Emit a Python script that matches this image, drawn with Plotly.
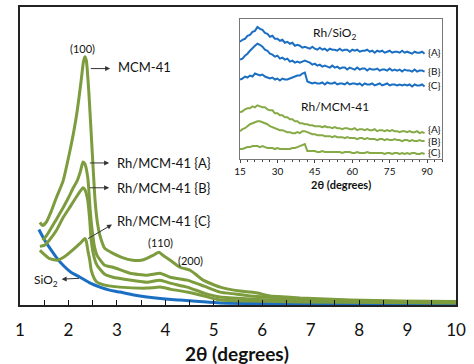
import plotly.graph_objects as go

# ---------------- main chart data (2theta in degrees, intensity a.u.) ----------------
mcm_x = [1.41, 1.47, 1.55, 1.65, 1.75, 1.89, 2.03, 2.10, 2.18, 2.26, 2.31, 2.34, 2.37, 2.42, 2.49,
         2.55, 2.60, 2.65, 2.75, 2.92, 3.10, 3.33, 3.50, 3.62, 3.75, 3.87, 3.95, 4.10, 4.30, 4.51,
         4.65, 4.78, 5.13, 5.54, 5.75, 5.90, 6.16, 6.50, 6.78, 7.30, 7.81, 8.84, 10.0]
mcm_y = [83, 80, 84, 95, 108, 125, 155, 172, 195, 225, 245, 250, 246, 215, 155,
         105, 82, 70, 57, 52, 48, 45, 45, 47, 50, 53, 50, 45, 38, 35,
         30, 25, 18, 14, 13, 12, 9, 8, 7, 6, 5, 4, 3.5]

rhA_x = [1.47, 1.55, 1.65, 1.75, 1.89, 2.00, 2.10, 2.18, 2.25, 2.30, 2.34, 2.40, 2.45, 2.49, 2.54,
         2.59, 2.75, 2.92, 3.27, 3.62, 3.75, 3.89, 4.10, 4.45, 4.80, 5.13, 5.45, 5.75, 6.20, 6.78,
         7.81, 8.84, 10.0]
rhA_y = [65, 70, 78, 86, 98, 108, 118, 125, 135, 144, 142, 128, 95, 75, 58,
         50, 40, 38, 32, 30, 31, 32, 28, 25, 19, 13, 11, 9, 7.5, 6,
         4.5, 3.5, 3]

rhB_x = [1.41, 1.50, 1.60, 1.75, 1.89, 2.05, 2.18, 2.30, 2.34, 2.40, 2.44, 2.47, 2.53, 2.59, 2.75,
         2.92, 3.30, 3.62, 3.89, 4.10, 4.45, 4.80, 5.13, 5.75, 6.78, 7.81, 10.0]
rhB_y = [59, 60, 65, 75, 88, 100, 110, 118, 116, 105, 85, 65, 48, 40, 31,
         28, 25, 23, 25, 22, 18, 12, 8, 6, 4, 3.5, 2.5]

rhC_x = [1.41, 1.50, 1.60, 1.76, 1.90, 2.03, 2.15, 2.24, 2.34, 2.37, 2.40, 2.44, 2.47, 2.53, 2.59,
         2.75, 3.06, 3.62, 3.89, 4.10, 4.45, 4.80, 5.13, 5.75, 6.78, 10.0]
rhC_y = [55, 51, 47, 45, 48, 53, 58, 62, 67, 64, 55, 45, 35, 27, 23,
         20, 18, 17, 18, 16, 13, 9, 5, 4, 3, 2]

sio2_x = [1.39, 1.50, 1.62, 1.75, 1.89, 2.05, 2.24, 2.45, 2.65, 2.85, 3.06, 3.35, 3.62, 4.00, 4.30,
          4.70, 5.13, 5.95, 7.00, 8.00, 10.0]
sio2_y = [76, 66, 57, 48, 40, 33, 28, 22, 18, 15, 13, 10, 8, 6, 5,
          3.5, 2, 1.5, 1, 0.8, 0.5]

main_ticks = [1, 2, 3, 4, 5, 6, 7, 8, 9, 10]

# ---------------- inset data (2theta 15-90) ----------------
inset_x = [15, 16, 17, 18, 19, 20, 21, 22, 23, 24, 25, 26, 27, 28, 29, 30, 31, 32, 33, 34,
           35, 36, 37, 38, 39, 40, 41, 42, 43, 44, 45, 46, 47, 48, 49, 50, 51, 52, 53, 54,
           55, 56, 57, 58, 59, 60, 61, 62, 63, 64, 65, 66, 67, 68, 69, 70, 71, 72, 73, 74,
           75, 76, 77, 78, 79, 80, 81, 82, 83, 84, 85, 86, 87, 88, 89]
sio2_A = [118, 120, 121, 124, 125, 128, 129, 133, 131, 130, 127, 126, 123, 124, 121, 121, 119, 120, 117, 118,
          116, 117, 114, 115, 114, 112, 113, 112, 111, 113, 111, 110, 112, 110, 111, 109, 111, 110, 110, 109,
          111, 109, 110, 110, 108, 110, 109, 110, 108, 109, 109, 110, 108, 109, 107, 109, 108, 109, 107, 108,
          109, 107, 108, 108, 107, 109, 107, 108, 107, 106, 108, 107, 107, 108, 106]
sio2_B = [100, 101, 104, 106, 109, 112, 114, 116, 115, 113, 110, 109, 106, 105, 103, 104, 101, 102, 100, 101,
          98, 99, 97, 98, 97, 98, 99, 98, 97, 95, 96, 94, 95, 93, 94, 93, 92, 94, 92, 93,
          91, 92, 92, 90, 92, 91, 90, 92, 90, 91, 91, 89, 91, 90, 90, 91, 89, 90, 90, 89,
          91, 89, 90, 89, 90, 88, 90, 89, 89, 88, 90, 88, 89, 89, 88]
sio2_C = [80, 81, 83, 82, 84, 83, 86, 85, 84, 85, 83, 82, 81, 82, 80, 81, 79, 81, 80, 80,
          81, 82, 83, 84, 84, 86, 87, 78, 77, 76, 77, 76, 76, 77, 75, 77, 76, 76, 77, 75,
          76, 76, 75, 77, 75, 76, 76, 75, 76, 74, 76, 75, 75, 76, 74, 75, 76, 74, 75, 76,
          74, 75, 75, 74, 75, 74, 75, 74, 75, 73, 75, 74, 74, 75, 73]
mcm_A = [47, 48, 50, 51, 51, 53, 52, 54, 53, 52, 52, 50, 49, 49, 46, 46, 44, 44, 42, 42,
         40, 40, 38, 38, 36, 36, 35, 35, 34, 34, 33, 33, 33, 32, 33, 32, 32, 31, 32, 31,
         31, 30, 31, 31, 30, 30, 31, 29, 30, 30, 29, 30, 29, 29, 30, 28, 29, 29, 28, 29,
         28, 29, 28, 28, 27, 28, 28, 27, 28, 27, 27, 28, 26, 27, 26]
mcm_B = [28, 30, 31, 33, 35, 36, 37, 38, 38, 37, 36, 35, 33, 32, 31, 30, 29, 29, 28, 27,
         27, 26, 26, 27, 26, 28, 28, 27, 26, 25, 25, 24, 24, 24, 23, 23, 23, 22, 23, 22,
         22, 22, 21, 22, 21, 21, 21, 20, 21, 21, 20, 21, 20, 20, 20, 19, 20, 20, 19, 20,
         19, 19, 20, 19, 19, 18, 19, 19, 18, 19, 18, 18, 19, 18, 18]
mcm_C = [10, 10, 11, 12, 12, 13, 13, 13, 12, 13, 12, 11, 11, 11, 10, 11, 10, 10, 10, 10,
         10, 11, 11, 12, 13, 14, 15, 8, 8, 8, 8, 7, 7, 8, 7, 7, 7, 7, 7, 7,
         7, 6, 7, 7, 7, 6, 6, 7, 6, 6, 6, 7, 6, 6, 6, 6, 6, 6, 5, 6,
         6, 5, 6, 6, 5, 6, 5, 6, 5, 6, 6, 5, 5, 6, 5]
inset_ticks = [15, 30, 45, 60, 75, 90]

GREEN = '#7C9C3E'
GREEN_IN = '#86AA45'
BLUE = '#1B6FC2'
FONT = 'Lato'

fig = go.Figure()

fig.add_trace(go.Scatter(x=sio2_x, y=sio2_y, mode='lines', line=dict(color=BLUE, width=3, shape='spline', smoothing=0.6)))
for xs, ys in [(rhC_x, rhC_y), (rhB_x, rhB_y), (rhA_x, rhA_y), (mcm_x, mcm_y)]:
    fig.add_trace(go.Scatter(x=xs, y=ys, mode='lines', line=dict(color=GREEN, width=3, shape='spline', smoothing=0.5)))

for ys, col in [(sio2_A, BLUE), (sio2_B, BLUE), (sio2_C, BLUE), (mcm_A, GREEN_IN), (mcm_B, GREEN_IN), (mcm_C, GREEN_IN)]:
    fig.add_trace(go.Scatter(x=inset_x, y=ys, mode='lines', xaxis='x2', yaxis='y2',
                             line=dict(color=col, width=2)))

ann = []
def txt(x, y, t, size=13, xa='left', ref=('x', 'y'), bold=False, color='#111'):
    ann.append(dict(x=x, y=y, xref=ref[0], yref=ref[1], text=('<b>%s</b>' % t if bold else t),
                    showarrow=False, xanchor=xa, yanchor='middle',
                    font=dict(family=FONT, size=size, color=color)))

def arrow(x0, y0, x1, y1):
    ann.append(dict(x=x1, y=y1, ax=x0, ay=y0, xref='x', yref='y', axref='x', ayref='y', text=' ',
                    showarrow=True, arrowhead=2, arrowsize=1, arrowwidth=1, arrowcolor='#333', standoff=0, startstandoff=0))

arrow(2.40, 238, 2.86, 238)
arrow(2.38, 143, 2.84, 143)
arrow(2.38, 118, 2.84, 118)
arrow(2.34, 65, 2.90, 81)
arrow(2.28, 27, 1.86, 26)

txt(2.99, 240, 'MCM-41', 13)
txt(2.97, 143, 'Rh/MCM-41 {A}', 13)
txt(2.97, 118, 'Rh/MCM-41 {B}', 13)
txt(2.97, 85, 'Rh/MCM-41 {C}', 13)
txt(1.83, 25, 'SiO<sub>2</sub>', 12, xa='right')
txt(2.30, 258, '(100)', 11, xa='center')
txt(3.89, 63, '(110)', 11, xa='center')
txt(4.51, 45, '(200)', 11, xa='center')

# inset labels
txt(53, 126, 'Rh/SiO<sub>2</sub>', 12, xa='center', ref=('x2', 'y2'))
txt(53, 53, 'Rh/MCM-41', 12, xa='center', ref=('x2', 'y2'))
for yv, t in [(108, '{A}'), (89, '{B}'), (74, '{C}'), (30, '{A}'), (18, '{B}'), (7, '{C}')]:
    txt(89.5, yv, t, 10, ref=('x2', 'y2'))

# axis titles
ann.append(dict(x=0.498, y=-0.162, xref='paper', yref='paper', text='<b>2θ (degrees)</b>', showarrow=False,
                xanchor='center', yanchor='middle', font=dict(family=FONT, size=19, color='#111')))
ann.append(dict(x=0.737, y=0.403, xref='paper', yref='paper', text='<b>2θ (degrees)</b>', showarrow=False,
                xanchor='center', yanchor='middle', font=dict(family=FONT, size=11, color='#111')))

fig.update_layout(
    width=474, height=364,
    margin=dict(l=20, r=18, t=5, b=59),
    paper_bgcolor='white', plot_bgcolor='white',
    showlegend=False,
    annotations=ann,
    xaxis=dict(range=[1, 10], tickvals=main_ticks, ticks='inside', ticklen=5, tickcolor='#111',
               minor=dict(dtick=0.5, ticks='inside', ticklen=5, tickcolor='#111'),
               showline=True, linecolor='#222', linewidth=1.5, mirror=True, showgrid=False, zeroline=False,
               tickfont=dict(family=FONT, size=17, color='#111'), ticklabelstandoff=9),
    yaxis=dict(range=[0, 300], showticklabels=False, ticks='', showline=True, linecolor='#222', linewidth=1.5,
               mirror=True, showgrid=False, zeroline=False),
    xaxis2=dict(domain=[0.5046, 0.968], anchor='y2', range=[15, 96], tickvals=inset_ticks, ticks='outside',
                ticklen=3, tickcolor='#444', minor=dict(dtick=3, ticks='outside', ticklen=2, tickcolor='#444'),
                showline=True, linecolor='#777', linewidth=1, mirror=True, showgrid=False, zeroline=False,
                tickfont=dict(family=FONT, size=10, color='#111')),
    yaxis2=dict(domain=[0.49, 0.96], anchor='x2', range=[0, 141], showticklabels=False, ticks='',
                showline=True, linecolor='#777', linewidth=1, mirror=True, showgrid=False, zeroline=False),
)

fig.write_html('out.html', config={'displayModeBar': False}, post_script="document.body.style.margin='0';")
